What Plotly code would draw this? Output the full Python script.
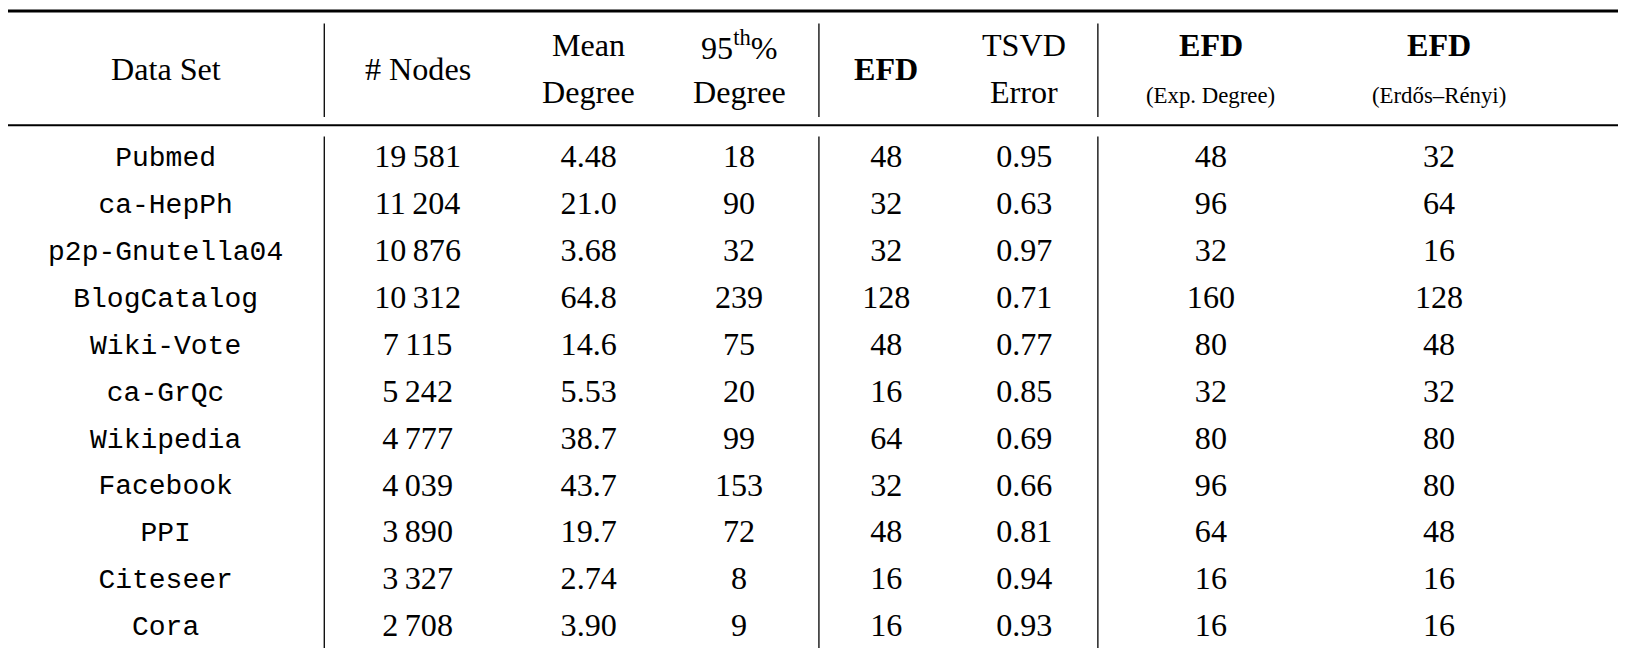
import plotly.graph_objects as go

data_sets = ["Pubmed", "ca-HepPh", "p2p-Gnutella04", "BlogCatalog", "Wiki-Vote", "ca-GrQc",
             "Wikipedia", "Facebook", "PPI", "Citeseer", "Cora"]
nodes = [19581, 11204, 10876, 10312, 7115, 5242, 4777, 4039, 3890, 3327, 2708]
mean_degree = ["4.48", "21.0", "3.68", "64.8", "14.6", "5.53", "38.7", "43.7", "19.7", "2.74", "3.90"]
deg95 = [18, 90, 32, 239, 75, 20, 99, 153, 72, 8, 9]
efd = [48, 32, 32, 128, 48, 16, 64, 32, 48, 16, 16]
tsvd_error = ["0.95", "0.63", "0.97", "0.71", "0.77", "0.85", "0.69", "0.66", "0.81", "0.94", "0.93"]
efd_exp = [48, 96, 32, 160, 80, 32, 80, 96, 64, 16, 16]
efd_er = [32, 64, 16, 128, 48, 32, 80, 80, 48, 16, 16]

W, H = 1626, 648
k = W / 1568  # layout measured on a 1568-wide view
serif = "Liberation Serif"
mono = "Liberation Mono"
col_x = [v * k for v in [152, 395, 560, 705, 847, 980, 1160, 1380]]
row_y0, row_dy = 146 * k, 45.2 * k


def thin(n):
    return f"{n:,}".replace(",", "\u2009")


columns = [
    (data_sets, mono, 27),
    ([thin(n) for n in nodes], serif, 31),
    (mean_degree, serif, 31),
    ([str(v) for v in deg95], serif, 31),
    ([str(v) for v in efd], serif, 31),
    (tsvd_error, serif, 31),
    ([str(v) for v in efd_exp], serif, 31),
    ([str(v) for v in efd_er], serif, 31),
]

fig = go.Figure()
ys = [row_y0 + i * row_dy for i in range(len(data_sets))]
for x, (vals, fam, sz) in zip(col_x, columns):
    fig.add_trace(go.Scatter(x=[x] * len(vals), y=ys, text=vals, mode="text",
                             textfont=dict(family=fam, size=sz * k, color="black"),
                             hoverinfo="skip", showlegend=False))

headers = [
    (col_x[0], 59, "Data Set", 31),
    (col_x[1], 59, "# Nodes", 31),
    (col_x[2], 36, "Mean", 31), (col_x[2], 81, "Degree", 31),
    (col_x[3], 36, "95<sup>th</sup>%", 31), (col_x[3], 81, "Degree", 31),
    (col_x[4], 59, "<b>EFD</b>", 31),
    (col_x[5], 36, "TSVD", 31), (col_x[5], 81, "Error", 31),
    (col_x[6], 36, "<b>EFD</b>", 31), (col_x[6], 84, "(Exp. Degree)", 22),
    (col_x[7], 36, "<b>EFD</b>", 31), (col_x[7], 84, "(Erdős–Rényi)", 22),
]
for x, y, t, s in headers:
    fig.add_annotation(x=x, y=y * k, text=t, showarrow=False, xref="x", yref="y",
                       font=dict(family=serif, size=s * k, color="black"))

shapes = [
    dict(type="line", x0=0, x1=W, y0=3, y1=3, line=dict(color="black", width=3)),
    dict(type="line", x0=0, x1=W, y0=113 * k, y1=113 * k, line=dict(color="black", width=2)),
]
for vx in [305, 782, 1051]:
    shapes.append(dict(type="line", x0=vx * k, x1=vx * k, y0=15 * k, y1=105 * k,
                       line=dict(color="black", width=1.3)))
    shapes.append(dict(type="line", x0=vx * k, x1=vx * k, y0=124 * k, y1=H,
                       line=dict(color="black", width=1.3)))

fig.update_layout(
    width=W, height=H, margin=dict(l=0, r=0, t=0, b=0),
    paper_bgcolor="white", plot_bgcolor="white", shapes=shapes,
    xaxis=dict(range=[0, W], visible=False, fixedrange=True),
    yaxis=dict(range=[H, 0], visible=False, fixedrange=True),
)
fig.write_html("out.html")
